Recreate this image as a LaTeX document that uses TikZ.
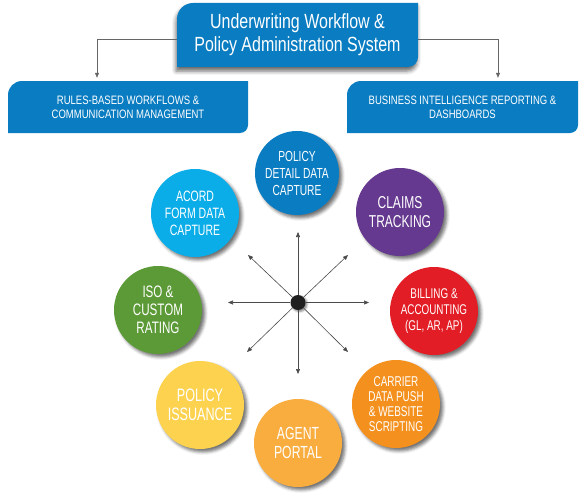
\documentclass[tikz,border=0pt]{standalone}
\usepackage{fontspec}
\setmainfont{Liberation Sans}[FakeStretch=0.78]
\newfontfamily\cnd{Liberation Sans}[FakeStretch=0.7]
\usetikzlibrary{arrows.meta,shadows.blur,calc}
\definecolor{boxblue}{HTML}{0A7CC1}
\definecolor{cPolicy}{HTML}{0A7CC1}
\definecolor{cAcord}{HTML}{0BADE9}
\definecolor{cClaims}{HTML}{65398F}
\definecolor{cIso}{HTML}{5B9A36}
\definecolor{cBilling}{HTML}{E31D25}
\definecolor{cCarrier}{HTML}{F4911E}
\definecolor{cAgent}{HTML}{F9AD3F}
\definecolor{cIssue}{HTML}{FDD24F}
\definecolor{spokegray}{HTML}{4A4A4A}
\tikzset{
  bub/.style={circle, inner sep=0pt, minimum size=88pt, text=white, align=center,
    blur shadow={shadow xshift=3pt, shadow yshift=-3pt, shadow blur radius=3pt, shadow opacity=55}},
  boxnode/.style={inner sep=0pt, text=white, align=center},
  spoke/.style={draw=spokegray, line width=0.6pt, -{Triangle[length=5pt,width=4pt]}},
  conn/.style={draw=gray!80!black, line width=0.6pt, -{Triangle[length=5pt,width=4pt]}},
  topshadow/.style={blur shadow={shadow xshift=-1pt, shadow yshift=-4pt, shadow blur radius=4pt, shadow opacity=60}}
}
% leaf-shaped box: left x, top y, right x, bottom y, top-left radius, bottom-right radius, options
\newcommand\leafbox[7]{%
  \fill[boxblue,#7] (#1,#4) -- (#1,#2-#5) arc[start angle=180,end angle=90,radius=#5]
    -- (#3,#2) -- (#3,#4+#6) arc[start angle=0,end angle=-90,radius=#6] -- cycle;}
\newcommand\fs[2]{\cnd\fontsize{#1}{#2}\selectfont}
\begin{document}
\begin{tikzpicture}[x=1pt,y=1pt]
\useasboundingbox (0,0) rectangle (586,-495);

% boxes
\leafbox{177}{-3}{418}{-67}{16}{10}{topshadow}
\leafbox{8}{-81}{248}{-133}{14}{8}{}
\leafbox{347}{-81}{578}{-133}{14}{8}{}
\node[boxnode, minimum width=241pt, minimum height=64pt, font=\fontsize{20.5}{23}\selectfont] (top) at (297.5,-35) {Underwriting Workflow \&\\Policy Administration System};
\node[boxnode, minimum width=240pt, minimum height=52pt, font=\fontsize{12.2}{14}\selectfont] (lbox) at (128,-107) {RULES-BASED WORKFLOWS \&\\COMMUNICATION MANAGEMENT};
\node[boxnode, minimum width=231pt, minimum height=52pt, font=\fontsize{12.2}{14}\selectfont] (rbox) at (462.5,-107) {BUSINESS INTELLIGENCE REPORTING \&\\DASHBOARDS};

\draw[conn] ([yshift=-4pt]top.west) -| ([xshift=-31pt,yshift=3pt]lbox.north);
\draw[conn] ([yshift=-4pt]top.east) -| ([xshift=35.5pt,yshift=3pt]rbox.north);

% circles
\node[bub, fill=cPolicy, minimum size=84pt, font=\fs{14.6}{17}] (policy) at (297,-173) {POLICY\\DETAIL DATA\\CAPTURE};
\node[bub, fill=cAcord, font=\fs{15}{17}] (acord) at (195,-213) {ACORD\\FORM DATA\\CAPTURE};
\node[bub, fill=cClaims, font=\fs{17.2}{19}] (claims) at (400,-212) {CLAIMS\\TRACKING};
\node[bub, fill=cIso, font=\fs{16.6}{18}] (iso) at (158,-310) {ISO \&\\CUSTOM\\RATING};
\node[bub, fill=cBilling, font=\fs{14.1}{16}] (billing) at (434,-311) {BILLING \&\\ACCOUNTING\\(GL, AR, AP)};
\node[bub, fill=cIssue, font=\fs{18}{18.5}] (issue) at (200,-405) {POLICY\\ISSUANCE};
\node[bub, fill=cAgent, font=\fs{17.5}{19}] (agent) at (298,-443) {AGENT\\PORTAL};
\node[bub, fill=cCarrier, font=\fs{14.2}{15}] (carrier) at (396,-404) {CARRIER\\DATA PUSH\\\& WEBSITE\\SCRIPTING};

% hub and spokes
\node[circle, fill=black!88, minimum size=15pt, inner sep=0pt,
  blur shadow={shadow xshift=1.5pt, shadow yshift=-1.5pt, shadow blur radius=2pt, shadow opacity=50}] (hub) at (298,-302.5) {};
\coordinate (tN) at (298,-232);
\coordinate (tS) at (298,-374);
\coordinate (tW) at (228,-302.5);
\coordinate (tE) at (369,-302.5);
\coordinate (tNW) at (248,-255);
\coordinate (tNE) at (348,-255);
\coordinate (tSW) at (247,-352);
\coordinate (tSE) at (348,-352);
\foreach \t in {tN,tS,tW,tE,tNW,tNE,tSW,tSE}{
  \draw[spoke] (hub) -- (\t);
}
\end{tikzpicture}
\end{document}
